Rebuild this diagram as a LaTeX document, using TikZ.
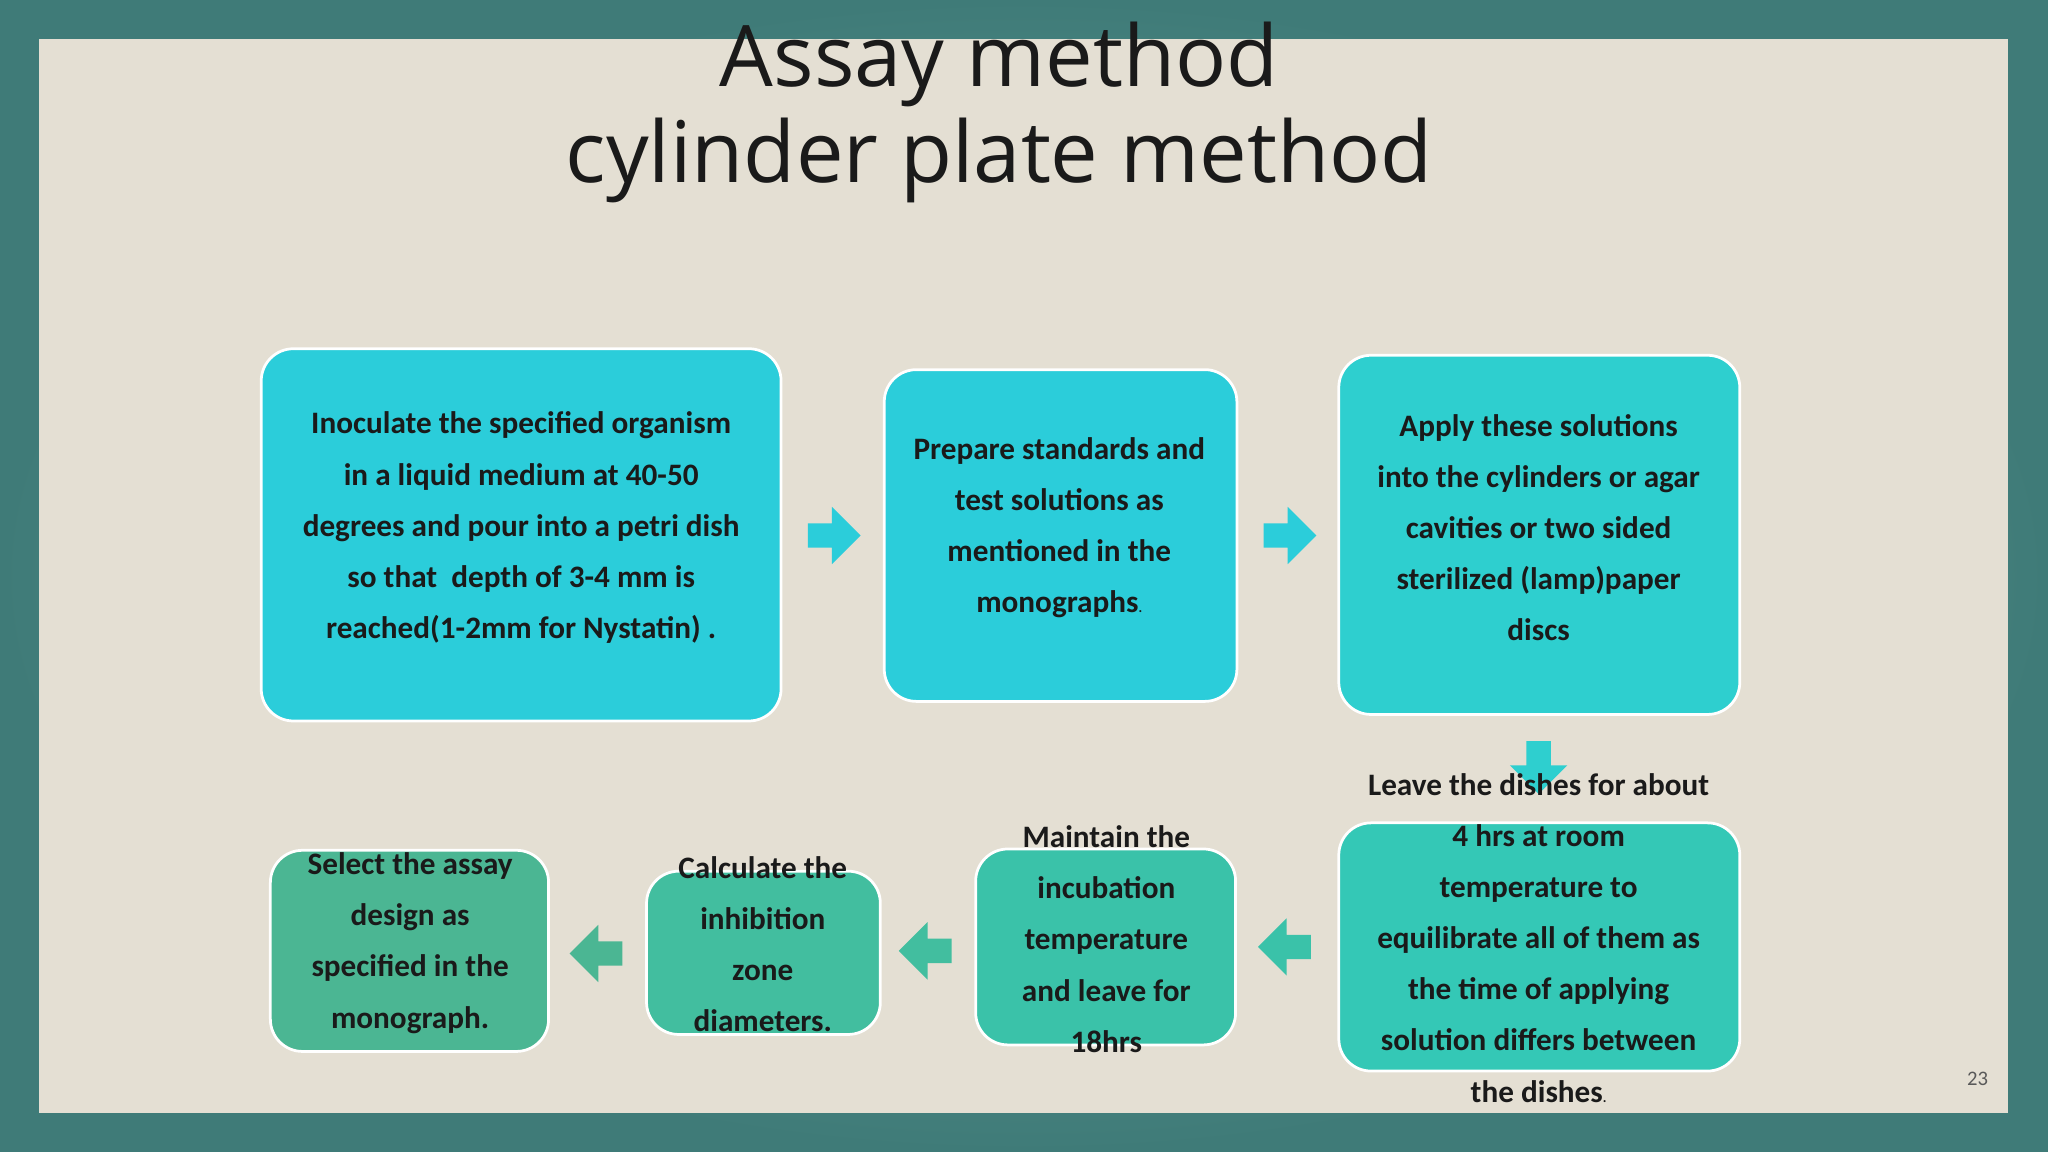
\documentclass[tikz,border=0pt]{standalone}
\usepackage{fontspec}
\setmainfont{Carlito}
\newfontfamily\titlefont{Open Sans}
\usetikzlibrary{shapes.arrows}
\definecolor{bgout}{HTML}{3F7B78}
\definecolor{bgin}{HTML}{6FA8A2}
\definecolor{panel}{HTML}{E4DFD3}
\definecolor{cA}{HTML}{2BCDDA}
\definecolor{cB}{HTML}{2ECFCF}
\definecolor{cC}{HTML}{34C8B6}
\definecolor{cD}{HTML}{3AC2A9}
\definecolor{cE}{HTML}{42BE9F}
\definecolor{cF}{HTML}{4BB693}
\definecolor{txt}{HTML}{1A1A1A}
\tikzset{
  px/.style={x=0.02cm,y=-0.02cm},
  stepbox/.style={draw=white,line width=1.2pt,rounded corners=14pt},
  btext/.style={align=center,font=\bfseries\fontsize{13.6}{22.3}\selectfont,text=txt},
  blk/.style={single arrow,minimum width=25pt,minimum height=23pt,single arrow head extend=3pt,inner sep=2pt,draw=none}
}
\begin{document}
\begin{tikzpicture}[px]
\useasboundingbox (0,0) rectangle (1568,882);
\shade[inner color=bgin,outer color=bgout] (0,0) rectangle (1568,882);
\fill[panel] (30,30) rectangle (1537,852);
\node[text=txt,font=\titlefont\fontsize{37}{42}\selectfont,align=center] (title) at (765,86) {Assay method\\cylinder plate method};
% boxes
\filldraw[stepbox,fill=cA] (200,267) rectangle (598,552);
\node[btext] (t1) at (399,404) {Inoculate the specified organism\\in a liquid medium at 40-50\\degrees and pour into a petri dish\\so that \ depth of 3-4 mm is\\reached(1-2mm for Nystatin) .};
\filldraw[stepbox,fill=cA] (677,283) rectangle (947,537);
\node[btext] (t2) at (811,404) {Prepare standards and\\test solutions as\\mentioned in the\\monographs{\fontsize{6}{6}\selectfont.}};
\filldraw[stepbox,fill=cB] (1025,272) rectangle (1332,547);
\node[btext] (t3) at (1178,404) {Apply these solutions\\into the cylinders or agar\\cavities or two sided\\sterilized (lamp)paper\\discs};
\filldraw[stepbox,fill=cC] (1025,630) rectangle (1332,820);
\filldraw[stepbox,fill=cD] (747,650) rectangle (946,800);
\filldraw[stepbox,fill=cE] (495,667) rectangle (674,792);
\filldraw[stepbox,fill=cF] (207,651) rectangle (420,805);
% arrows
\node[blk,fill=cA] (a1) at (634,410) {};
\node[blk,fill=cA] (a2) at (983,410) {};
\node[blk,fill=cB,shape border rotate=270] (a3) at (1178,583) {};
\node[blk,fill=cD,shape border rotate=180] (a4) at (988,725) {};
\node[blk,fill=cE,shape border rotate=180] (a5) at (713,728) {};
\node[blk,fill=cF,shape border rotate=180] (a6) at (461,730) {};
\node[btext] (t4) at (1178,718) {Leave the dishes for about\\4 hrs at room\\temperature to\\equilibrate all of them as\\the time of applying\\solution differs between\\the dishes{\fontsize{6}{6}\selectfont.}};
\node[btext] (t5) at (847,719) {Maintain the\\incubation\\temperature\\and leave for\\18hrs};
\node[btext] (t6) at (584,723) {Calculate the\\inhibition\\zone\\diameters.};
\node[btext] (t7) at (314,722) {Select the assay\\design as\\specified in the\\monograph.};
\node[text=gray!70!black,font=\fontsize{9}{9}\selectfont] (pg) at (1514,826) {23};
\end{tikzpicture}
\end{document}
